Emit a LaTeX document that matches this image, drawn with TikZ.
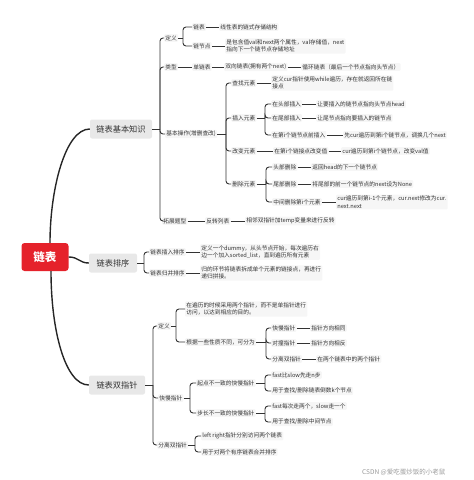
\documentclass[tikz,border=0pt]{standalone}
\usepackage{fontspec}
\setmainfont{Noto Sans CJK SC}
\definecolor{rootred}{HTML}{E5222B}
\definecolor{mainbg}{HTML}{E8E8E8}
\definecolor{ink}{HTML}{333333}
\definecolor{leafbg}{HTML}{F6F6F6}
\newcommand{\mmfork}[3]{%
  \coordinate (#1f) at (#2,0);
  \draw[conn] (#1.east) -- (#1f |- #1.east);
  \foreach \mmc in {#3}{\draw[conn,rounded corners=3pt] (#1f |- #1.east) |- (\mmc.west);}
}
\begin{document}
\begin{tikzpicture}[x=1pt,y=-1pt,
  conn/.style={draw=ink, line width=0.9pt},
  rootconn/.style={draw=black!85, line width=1.4pt},
  leaf/.style={anchor=west, font=\fontsize{5.7}{7.6}\selectfont, text=ink, inner sep=1.2pt, align=left, fill=leafbg, rounded corners=1pt},
  rootbox/.style={fill=rootred, text=white, font=\fontsize{11.5}{12}\selectfont\bfseries, minimum width=47pt, minimum height=28pt, rounded corners=3pt, inner sep=0pt},
  mainbox/.style={fill=mainbg, text=ink, font=\fontsize{8.2}{9}\selectfont, minimum height=19pt, inner xsep=4pt, rounded corners=2pt}
]
\useasboundingbox (0,0) rectangle (474,480);

% root and main branches
\node[rootbox] (root) at (45,257) {链表};
\node[mainbox, minimum width=62pt] (kb) at (121,129) {链表基本知识};
\node[mainbox, minimum width=48pt] (px) at (113,263) {链表排序};
\node[mainbox, minimum width=56pt] (sz) at (117,385) {链表双指针};

\draw[rootconn] ([xshift=5pt]root.north) .. controls (50,190) and (65,129) .. (kb.west);
\draw[rootconn] (root.east) .. controls (79,257) and (79,263) .. (px.west);
\draw[rootconn] ([xshift=6pt]root.south) .. controls (51,330) and (65,385) .. (sz.west);

% ---------- branch 1 ----------
\node[leaf] (kdef) at (164,38) {定义};
\node[leaf] (ktype) at (164,67) {类型};
\node[leaf] (kop) at (165,134) {基本操作(增删查改)};
\node[leaf] (kext) at (162,221) {拓展题型};

\node[leaf] (kdl) at (192,27) {链表};
\node[leaf] (kdn) at (192,46) {链节点};
\node[leaf] (kdlx) at (219,27) {线性表的链式存储结构};
\node[leaf] (kdnx) at (225,46) {是包含值val和next两个属性，val存储值，next\\指向下一个链节点存储地址};

\node[leaf] (ksl) at (192,67) {单链表};
\node[leaf] (kdbl) at (224,67) {双向链表(拥有两个next)};
\node[leaf] (kcyc) at (301,67) {循环链表（最后一个节点指向头节点）};

\node[leaf] (kfind) at (231,83) {查找元素};
\node[leaf] (kfindx) at (271,83) {定义cur指针使用while遍历，存在就返回所在链\\接点};
\node[leaf] (kins) at (231,118) {插入元素};
\node[leaf] (kih) at (271,104) {在头部插入};
\node[leaf] (kihx) at (316,104) {让要插入的链节点指向头节点head};
\node[leaf] (kit) at (271,118) {在尾部插入};
\node[leaf] (kitx) at (316,118) {让尾节点指向要插入的链节点};
\node[leaf] (kii) at (271,135) {在第i个链节点前插入};
\node[leaf] (kiix) at (343,135) {先cur遍历到第i个链节点，调换几个next};
\node[leaf] (kchg) at (231,151) {改变元素};
\node[leaf] (kchgi) at (273,151) {在第i个链接点改变值};
\node[leaf] (kchgx) at (341,151) {cur遍历到第i个链节点，改变val值};
\node[leaf] (kdel) at (231,184) {删除元素};
\node[leaf] (kdh) at (272,167) {头部删除};
\node[leaf] (kdhx) at (311,167) {返回head的下一个链节点};
\node[leaf] (kdt) at (272,184) {尾部删除};
\node[leaf] (kdtx) at (311,184) {将尾部的前一个链节点的next设为None};
\node[leaf] (kdm) at (272,202) {中间删除第i个元素};
\node[leaf] (kdmx) at (336,202) {cur遍历到第i-1个元素，cur.next修改为cur.\\next.next};
\node[leaf] (krev) at (205,221) {反转列表};
\node[leaf] (krevx) at (245,221) {相邻双指针加temp变量来进行反转};

\mmfork{kb}{160}{kdef,ktype,kop,kext}
\mmfork{kdef}{183}{kdl,kdn}
\draw[conn] (kdl.east) -- (kdlx.west);
\draw[conn] (kdn.east) -- (kdnx.west);
\draw[conn] (ktype.east) -- (ksl.west);
\draw[conn] (ksl.east) -- (kdbl.west);
\draw[conn] (kdbl.east) -- (kcyc.west);
\mmfork{kop}{226}{kfind,kins,kchg,kdel}
\draw[conn] (kfind.east) -- (kfindx.west);
\mmfork{kins}{265}{kih,kit,kii}
\draw[conn] (kih.east) -- (kihx.west);
\draw[conn] (kit.east) -- (kitx.west);
\draw[conn] (kii.east) -- (kiix.west);
\draw[conn] (kchg.east) -- (kchgi.west);
\draw[conn] (kchgi.east) -- (kchgx.west);
\mmfork{kdel}{266}{kdh,kdt,kdm}
\draw[conn] (kdh.east) -- (kdhx.west);
\draw[conn] (kdt.east) -- (kdtx.west);
\draw[conn] (kdm.east) -- (kdmx.west);
\draw[conn] (kext.east) -- (krev.west);
\draw[conn] (krev.east) -- (krevx.west);

% ---------- branch 2 ----------
\node[leaf] (pins) at (149,252) {链表插入排序};
\node[leaf] (pinsx) at (200,252) {定义一个dummy，从头节点开始，每次遍历右\\边一个加入sorted\_list，直到遍历所有元素};
\node[leaf] (pmer) at (149,273) {链表归并排序};
\node[leaf] (pmerx) at (200,273) {归的环节将链表拆成单个元素的链接点，再进行\\递归拼接。};
\mmfork{px}{144}{pins,pmer}
\draw[conn] (pins.east) -- (pinsx.west);
\draw[conn] (pmer.east) -- (pmerx.west);

% ---------- branch 3 ----------
\node[leaf] (sdef) at (157,326) {定义};
\node[leaf] (sfs) at (158,398) {快慢指针};
\node[leaf] (ssep) at (157,445) {分离双指针};
\node[leaf] (sdx) at (185,309) {在遍历的时候采用两个指针，而不是单指针进行\\访问，以达到相应的目的。};
\node[leaf] (sdk) at (185,342) {根据一些性质不同，可分为};
\node[leaf] (sk1) at (271,328) {快慢指针};
\node[leaf] (sk1x) at (310,328) {指针方向相同};
\node[leaf] (sk2) at (271,343) {对撞指针};
\node[leaf] (sk2x) at (310,343) {指针方向相反};
\node[leaf] (sk3) at (271,359) {分离双指针};
\node[leaf] (sk3x) at (316,359) {在两个链表中的两个指针};
\node[leaf] (sf1) at (196,383) {起点不一致的快慢指针};
\node[leaf] (sf1a) at (271,375) {fast比slow先走n步};
\node[leaf] (sf1b) at (271,391) {用于查找/删除链表倒数k个节点};
\node[leaf] (sf2) at (196,413) {步长不一致的快慢指针};
\node[leaf] (sf2a) at (271,406) {fast每次走两个，slow走一个};
\node[leaf] (sf2b) at (271,422) {用于查找/删除中间节点};
\node[leaf] (ss1) at (201,436) {left right指针分别访问两个链表};
\node[leaf] (ss2) at (201,452) {用于对两个有序链表合并排序};

\mmfork{sz}{153}{sdef,sfs,ssep}
\mmfork{sdef}{176}{sdx,sdk}
\mmfork{sdk}{266}{sk1,sk2,sk3}
\draw[conn] (sk1.east) -- (sk1x.west);
\draw[conn] (sk2.east) -- (sk2x.west);
\draw[conn] (sk3.east) -- (sk3x.west);
\mmfork{sfs}{190}{sf1,sf2}
\mmfork{sf1}{265}{sf1a,sf1b}
\mmfork{sf2}{265}{sf2a,sf2b}
\mmfork{ssep}{195}{ss1,ss2}

% watermark
\node[anchor=west, font=\fontsize{6.5}{7}\selectfont, text=black!40, inner sep=0pt] (wm) at (362,472) {CSDN @爱吃蛋炒饭的小老鼠};
\end{tikzpicture}
\end{document}
